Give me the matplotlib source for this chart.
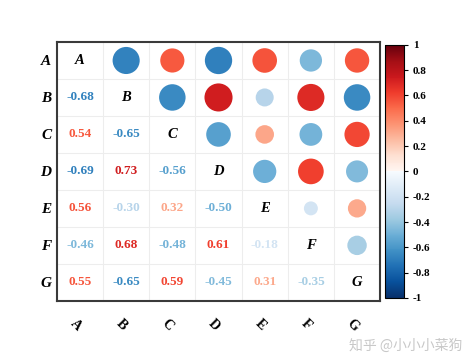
import numpy as np
import matplotlib.pyplot as plt
from matplotlib import cm, colors

labels = ["A", "B", "C", "D", "E", "F", "G"]
# lower triangle of the correlation matrix, row by row
lower = [
    [],
    [-0.68],
    [0.54, -0.65],
    [-0.69, 0.73, -0.56],
    [0.56, -0.30, 0.32, -0.50],
    [-0.46, 0.68, -0.48, 0.61, -0.18],
    [0.55, -0.65, 0.59, -0.45, 0.31, -0.35],
]
cbar_ticks = [-1, -0.8, -0.6, -0.4, -0.2, 0, 0.2, 0.4, 0.6, 0.8, 1]
cbar_labels = ["-1", "-0.8", "-0.6", "-0.4", "-0.2", "0", "0.2", "0.4", "0.6", "0.8", "1"]

n = len(labels)
corr = np.eye(n)
for i, row in enumerate(lower):
    for j, v in enumerate(row):
        corr[i, j] = v
        corr[j, i] = v

plt.rcParams['font.family'] = ['Liberation Serif', 'DejaVu Serif']

# blues for negative, reds for positive
t = np.linspace(0, 1, 128)
cols = np.vstack([plt.get_cmap('Blues')(t[::-1]), plt.get_cmap('Reds')(t)])
cmap = colors.LinearSegmentedColormap.from_list('bluered', cols, N=256)
norm = colors.Normalize(-1, 1)

fig = plt.figure(figsize=(4.74, 3.62), dpi=100)
ax = fig.add_axes([0.120, 0.169, 0.682, 0.715])
ax.set_xlim(0.5, n + 0.5)
ax.set_ylim(n + 0.5, 0.5)

for k in range(1, n):
    ax.axhline(k + 0.5, color='#ededed', lw=0.8, zorder=0)
    ax.axvline(k + 0.5, color='#ededed', lw=0.8, zorder=0)

for i in range(n):
    for j in range(n):
        v = corr[i, j]
        x, y = j + 1, i + 1
        if i == j:
            ax.text(x, y, labels[i], ha='center', va='center', fontsize=10.5,
                    fontweight='bold', fontstyle='italic', color='black')
        elif i > j:
            ax.text(x, y, "%.2f" % v, ha='center', va='center', fontsize=9.5,
                    fontweight='bold', color=cmap(norm(v)))
        else:
            ax.scatter(x, y, s=560 * abs(v), color=cmap(norm(v)), edgecolor='none', zorder=2)

ax.set_xticks(range(1, n + 1))
ax.set_yticks(range(1, n + 1))
ax.set_xticklabels(labels, rotation=-45, fontweight='bold', fontsize=10,
                   ha='center', va='top', rotation_mode='anchor')
ax.set_yticklabels(labels, fontweight='bold', fontstyle='italic', fontsize=11)
ax.tick_params(length=0)
ax.tick_params(axis='y', pad=4)
ax.tick_params(axis='x', pad=14)
for s in ax.spines.values():
    s.set_color('#3a3a3a')
    s.set_linewidth(1.5)

cax = fig.add_axes([0.812, 0.177, 0.040, 0.699])
cb = fig.colorbar(cm.ScalarMappable(norm=norm, cmap=cmap), cax=cax, ticks=cbar_ticks)
cb.ax.set_yticklabels(cbar_labels, fontweight='bold', fontsize=8)
cb.ax.tick_params(length=3, width=0.8)
cb.outline.set_linewidth(0.8)

fig.text(0.975, 0.025, "知乎 @小小小菜狗", ha='right', va='bottom', fontsize=10,
         color='#c8c8c8', family=['Noto Sans CJK SC', 'DejaVu Sans'])

fig.savefig('out.png', dpi=100)
